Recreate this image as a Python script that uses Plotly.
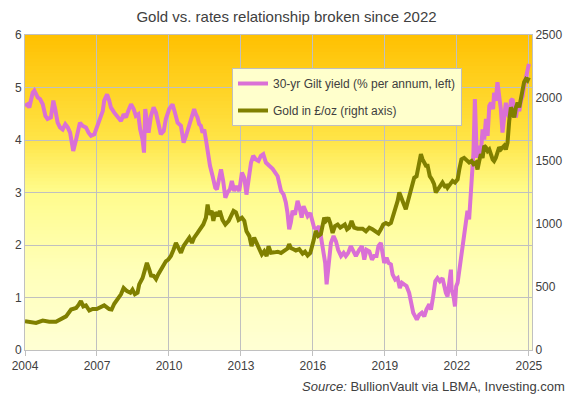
import plotly.graph_objects as go

# ---- data ----
gilt_year = [2004.00, 2004.11, 2004.18, 2004.32, 2004.39, 2004.53, 2004.63, 2004.74, 2004.85, 2004.94,
             2005.08, 2005.18, 2005.26, 2005.36, 2005.46, 2005.57, 2005.68, 2005.78, 2005.88, 2005.96,
             2006.01, 2006.13, 2006.21, 2006.29, 2006.40, 2006.54, 2006.65, 2006.75, 2006.89, 2006.99,
             2007.10, 2007.24, 2007.30, 2007.42, 2007.51, 2007.58, 2007.72, 2007.86, 2008.00, 2008.11,
             2008.21, 2008.30, 2008.42, 2008.53, 2008.62, 2008.72, 2008.80, 2008.90, 2008.96, 2009.01,
             2009.08, 2009.15, 2009.25, 2009.36, 2009.46, 2009.55, 2009.66, 2009.78, 2009.87, 2010.01,
             2010.15, 2010.25, 2010.36, 2010.50, 2010.61, 2010.71, 2010.85, 2010.96, 2011.05, 2011.12,
             2011.19, 2011.26, 2011.33, 2011.40, 2011.47, 2011.54, 2011.61, 2011.71, 2011.82, 2011.93,
             2012.00, 2012.10, 2012.17, 2012.26, 2012.35, 2012.44, 2012.54, 2012.62, 2012.72, 2012.82,
             2012.93, 2013.04, 2013.14, 2013.23, 2013.32, 2013.42, 2013.51, 2013.62, 2013.73, 2013.83,
             2013.93, 2014.04, 2014.18, 2014.32, 2014.53, 2014.67, 2014.78, 2014.87, 2014.94, 2015.01,
             2015.08, 2015.15, 2015.25, 2015.36, 2015.46, 2015.53, 2015.61, 2015.71, 2015.78, 2015.89,
             2015.98, 2016.05, 2016.17, 2016.26, 2016.33, 2016.44, 2016.51, 2016.57, 2016.65, 2016.75,
             2016.86, 2016.96, 2017.05, 2017.17, 2017.28, 2017.37, 2017.47, 2017.58, 2017.69, 2017.79,
             2017.93, 2018.04, 2018.14, 2018.23, 2018.35, 2018.46, 2018.55, 2018.65, 2018.73, 2018.83,
             2018.90, 2018.97, 2019.07, 2019.15, 2019.25, 2019.32, 2019.43, 2019.53, 2019.62, 2019.71,
             2019.80, 2019.90, 2020.01, 2020.08, 2020.18, 2020.26, 2020.33, 2020.43, 2020.54, 2020.64,
             2020.73, 2020.85, 2020.92, 2021.01, 2021.10, 2021.19, 2021.29, 2021.40, 2021.48, 2021.54,
             2021.61, 2021.68, 2021.75, 2021.78, 2021.86, 2021.92, 2021.97, 2022.03, 2022.10, 2022.17,
             2022.24, 2022.30, 2022.37, 2022.44, 2022.51, 2022.58, 2022.64, 2022.69, 2022.75, 2022.79,
             2022.83, 2022.89, 2022.94, 2023.00, 2023.07, 2023.14, 2023.21, 2023.28, 2023.35, 2023.42,
             2023.51, 2023.55, 2023.62, 2023.69, 2023.76, 2023.83, 2023.90, 2023.97, 2024.04, 2024.11,
             2024.18, 2024.25, 2024.32, 2024.39, 2024.46, 2024.53, 2024.60, 2024.67, 2024.74, 2024.80,
             2024.87, 2024.94, 2025.00]
gilt_pct = [4.65, 4.68, 4.62, 4.90, 4.94, 4.81, 4.78, 4.68, 4.46, 4.40,
            4.43, 4.75, 4.59, 4.33, 4.24, 4.20, 4.30, 4.24, 4.14, 3.92,
            3.79, 4.01, 4.20, 4.33, 4.27, 4.24, 4.14, 4.08, 4.11, 4.24,
            4.40, 4.55, 4.75, 4.87, 4.75, 4.62, 4.52, 4.43, 4.36, 4.49,
            4.43, 4.55, 4.68, 4.59, 4.46, 4.49, 4.20, 4.01, 3.76, 4.59,
            4.27, 4.14, 4.46, 4.62, 4.52, 4.33, 4.11, 4.17, 4.40, 4.59,
            4.68, 4.52, 4.33, 4.27, 3.95, 4.08, 4.28, 4.49, 4.59, 4.49,
            4.43, 4.30, 4.27, 4.14, 4.20, 4.01, 3.76, 3.51, 3.31, 3.09,
            3.06, 3.31, 3.44, 3.22, 2.90, 3.00, 3.06, 3.22, 3.03, 3.12,
            3.03, 3.38, 3.28, 2.96, 3.25, 3.57, 3.70, 3.63, 3.60, 3.70,
            3.73, 3.57, 3.51, 3.45, 3.31, 3.03, 2.96, 2.81, 2.61, 2.30,
            2.43, 2.65, 2.58, 2.84, 2.68, 2.52, 2.74, 2.65, 2.55, 2.61,
            2.46, 2.33, 2.30, 2.36, 2.17, 1.91, 1.66, 1.25, 1.66, 2.04,
            2.17, 2.07, 1.91, 1.79, 1.85, 1.79, 1.85, 1.98, 1.88, 1.79,
            1.91, 1.98, 1.72, 1.91, 1.88, 1.72, 1.79, 1.79, 1.98, 2.04,
            1.85, 1.66, 1.76, 1.66, 1.63, 1.44, 1.34, 1.37, 1.18, 1.28,
            1.25, 1.22, 1.09, 0.90, 0.71, 0.64, 0.58, 0.67, 0.71, 0.64,
            0.77, 0.87, 0.77, 1.02, 1.31, 1.37, 1.31, 1.37, 1.20, 1.09,
            1.02, 1.28, 1.53, 1.15, 1.02, 0.83, 1.21, 1.28, 1.53, 1.72,
            2.04, 2.17, 2.42, 2.65, 2.49, 3.00, 3.44, 3.76, 4.78, 4.01,
            3.66, 3.89, 3.70, 3.76, 4.20, 4.01, 4.40, 4.08, 4.65, 4.71,
            4.59, 4.90, 4.75, 5.10, 4.84, 4.59, 4.14, 4.46, 4.71, 4.52,
            4.43, 4.75, 4.78, 4.59, 4.43, 4.65, 4.55, 4.75, 4.84, 5.02,
            5.16, 5.35, 5.45]

gold_year = [2004.00, 2004.18, 2004.46, 2004.74, 2005.01, 2005.29, 2005.50, 2005.71, 2005.92, 2006.13,
             2006.24, 2006.33, 2006.43, 2006.54, 2006.68, 2006.82, 2006.99, 2007.17, 2007.30, 2007.51,
             2007.61, 2007.72, 2007.86, 2008.00, 2008.11, 2008.25, 2008.39, 2008.48, 2008.58, 2008.69,
             2008.76, 2008.90, 2009.00, 2009.08, 2009.18, 2009.25, 2009.36, 2009.46, 2009.55, 2009.66,
             2009.78, 2009.87, 2009.97, 2010.08, 2010.19, 2010.29, 2010.39, 2010.50, 2010.61, 2010.75,
             2010.85, 2010.96, 2011.05, 2011.19, 2011.33, 2011.43, 2011.54, 2011.61, 2011.68, 2011.78,
             2011.85, 2011.93, 2012.03, 2012.12, 2012.23, 2012.35, 2012.49, 2012.58, 2012.69, 2012.79,
             2012.90, 2013.04, 2013.14, 2013.23, 2013.35, 2013.44, 2013.55, 2013.65, 2013.76, 2013.87,
             2013.97, 2014.07, 2014.15, 2014.25, 2014.39, 2014.53, 2014.67, 2014.81, 2014.94, 2015.01,
             2015.08, 2015.19, 2015.29, 2015.43, 2015.57, 2015.67, 2015.78, 2015.89, 2015.94, 2016.03,
             2016.12, 2016.22, 2016.33, 2016.40, 2016.47, 2016.54, 2016.64, 2016.72, 2016.82, 2016.92,
             2017.03, 2017.14, 2017.24, 2017.33, 2017.42, 2017.51, 2017.61, 2017.72, 2017.86, 2018.07,
             2018.21, 2018.35, 2018.48, 2018.62, 2018.73, 2018.83, 2018.93, 2019.04, 2019.15, 2019.25,
             2019.35, 2019.43, 2019.53, 2019.60, 2019.67, 2019.76, 2019.87, 2019.94, 2020.04, 2020.12,
             2020.22, 2020.32, 2020.40, 2020.50, 2020.57, 2020.64, 2020.71, 2020.78, 2020.87, 2020.96,
             2021.05, 2021.12, 2021.21, 2021.29, 2021.40, 2021.49, 2021.57, 2021.61, 2021.72, 2021.82,
             2021.92, 2022.03, 2022.10, 2022.19, 2022.30, 2022.42, 2022.51, 2022.61, 2022.69, 2022.79,
             2022.86, 2022.93, 2023.00, 2023.07, 2023.14, 2023.21, 2023.28, 2023.35, 2023.42, 2023.49,
             2023.55, 2023.62, 2023.69, 2023.76, 2023.83, 2023.90, 2023.97, 2024.04, 2024.11, 2024.18,
             2024.25, 2024.32, 2024.39, 2024.46, 2024.53, 2024.60, 2024.67, 2024.74, 2024.80, 2024.87,
             2024.94, 2025.00]
gold_gbp = [228, 221, 215, 233, 225, 225, 242, 267, 321, 333,
            360, 388, 346, 354, 313, 325, 325, 346, 354, 325,
            321, 367, 400, 442, 492, 467, 454, 479, 442, 454,
            521, 571, 638, 692, 638, 592, 588, 563, 600, 638,
            679, 704, 717, 746, 796, 850, 813, 771, 825, 863,
            892, 850, 892, 929, 963, 996, 1050, 1154, 1075, 1104,
            1025, 1092, 1063, 1104, 1033, 996, 1025, 1063, 1104, 1092,
            1033, 1050, 1025, 942, 904, 825, 892, 850, 796, 758,
            783, 746, 825, 771, 775, 780, 770, 785, 805, 840,
            810, 800, 790, 800, 765, 780, 750, 770, 820, 870,
            945, 905, 920, 1000, 1050, 1025, 1050, 1008, 929, 983,
            996, 971, 983, 996, 958, 971, 1025, 971, 963, 963,
            942, 971, 958, 938, 925, 958, 996, 1008, 996, 1008,
            1063, 1117, 1183, 1250, 1221, 1171, 1117, 1171, 1250, 1300,
            1367, 1379, 1463, 1554, 1513, 1488, 1463, 1463, 1379, 1354,
            1317, 1250, 1275, 1300, 1329, 1300, 1304, 1288, 1317, 1342,
            1329, 1354, 1433, 1513, 1525, 1500, 1488, 1500, 1475, 1488,
            1433, 1500, 1554, 1525, 1621, 1608, 1579, 1592, 1542, 1513,
            1500, 1525, 1567, 1608, 1592, 1608, 1621, 1592, 1646, 1817,
            1925, 1896, 1846, 1925, 1963, 1925, 1992, 2029, 2125, 2150,
            2138, 2163]

year_ticks = [2004, 2007, 2010, 2013, 2016, 2019, 2022, 2025]
left_ticks = [0, 1, 2, 3, 4, 5, 6]
right_ticks = [0, 500, 1000, 1500, 2000, 2500]

gilt_name = "30-yr Gilt yield (% per annum, left)"
gold_name = "Gold in £/oz (right axis)"
title_text = "Gold vs. rates relationship broken since 2022"
source_text = "<i>Source:</i> BullionVault via LBMA, Investing.com"

FONT = "Liberation Sans, Arial, sans-serif"
TXT = "#404040"
GRID = "#C0C0C0"

fig = go.Figure()
fig.add_trace(go.Scatter(x=gilt_year, y=gilt_pct, name=gilt_name, mode="lines",
                         line=dict(color="#DA70D6", width=4), legendgroup="a", yaxis="y"))
fig.add_trace(go.Scatter(x=gold_year, y=gold_gbp, name=gold_name, mode="lines",
                         line=dict(color="#808000", width=4), legendgroup="b", yaxis="y2"))

# gradient background as horizontal bands (below gridlines)
stops = [(0.0, (255, 192, 0)), (0.33, (255, 228, 70)), (0.5, (255, 252, 140)),
         (0.75, (255, 255, 185)), (1.0, (255, 255, 212))]

def col(f):
    for (f0, c0), (f1, c1) in zip(stops[:-1], stops[1:]):
        if f0 <= f <= f1:
            t = (f - f0) / (f1 - f0)
            return "rgb(%d,%d,%d)" % tuple(round(a + (b - a) * t) for a, b in zip(c0, c1))
    return "rgb(%d,%d,%d)" % stops[-1][1]

N = 90
shapes = []
for i in range(N):
    y1 = 1 - i / N
    y0 = 1 - (i + 1) / N
    shapes.append(dict(type="rect", xref="paper", yref="paper", x0=0, x1=1,
                       y0=y0, y1=y1 + 0.002, fillcolor=col((i + 0.5) / N),
                       line=dict(width=0), layer="below"))

fig.update_layout(
    width=573, height=398,
    margin=dict(l=25, r=41, t=35, b=48, autoexpand=False),
    paper_bgcolor="white", plot_bgcolor="rgba(0,0,0,0)",
    font=dict(family=FONT, size=12, color=TXT),
    shapes=shapes,
    title=dict(text=title_text, x=0.5, xref="container", xanchor="center",
               y=1 - 17 / 398, yanchor="middle", yref="container",
               font=dict(family=FONT, size=15, color=TXT)),
    xaxis=dict(range=[2004, 2025.13], tickvals=year_ticks, ticktext=[str(v) for v in year_ticks],
               showgrid=True, gridcolor=GRID, gridwidth=1, zeroline=False,
               showline=True, linecolor=GRID, linewidth=1, mirror=True,
               ticks="outside", ticklen=5, tickcolor=GRID, automargin=False,
               tickfont=dict(size=12, color=TXT)),
    yaxis=dict(range=[0, 6], tickvals=left_ticks, showgrid=True, gridcolor=GRID, gridwidth=1,
               zeroline=False, showline=True, linecolor=GRID, linewidth=1, automargin=False,
               ticks="", tickfont=dict(size=12, color=TXT)),
    yaxis2=dict(range=[0, 2500], tickvals=right_ticks, overlaying="y", side="right",
                showgrid=False, zeroline=False, showline=True, linecolor=GRID, linewidth=1,
                automargin=False, ticks="", tickfont=dict(size=12, color=TXT)),
    legend=dict(x=(232 - 25) / 507, y=(350 - 68) / 315, xanchor="left", yanchor="top",
                bgcolor="#FFFFCC", bordercolor="#BFBFBF", borderwidth=1,
                font=dict(size=12, color=TXT), traceorder="grouped", tracegroupgap=8,
                itemwidth=30),
    showlegend=True,
)

fig.add_annotation(text=source_text, xref="paper", yref="paper",
                   x=(567 - 25) / 507, y=(350 - 386) / 315, xanchor="right", yanchor="middle",
                   showarrow=False, font=dict(family=FONT, size=13, color=TXT))

fig.write_html("out.html", config={"displayModeBar": False},
               post_script="document.body.style.margin='0';document.body.style.padding='0';")
